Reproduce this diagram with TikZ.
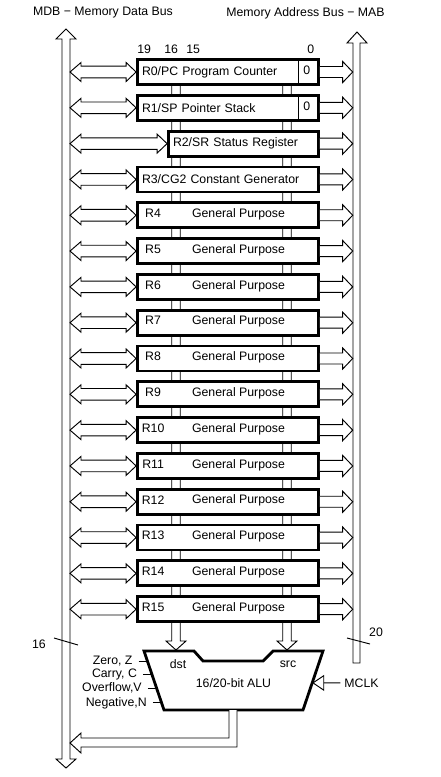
\documentclass[tikz,border=0pt]{standalone}
\usepackage{fontspec}
\setmainfont{Liberation Sans}
\usetikzlibrary{positioning, arrows.meta, calc, backgrounds}

\begin{document}
\begin{tikzpicture}[
    x=0.3mm, y=-0.3mm,
    font=\fontsize{10.5}{12}\selectfont,
    node distance=2.4mm,
    reg/.style={
        rectangle, draw=black, line width=2.4pt, fill=white,
        minimum width=54.3mm, minimum height=7.5mm,
        inner xsep=1.35mm, inner ysep=0pt,
        text width=51.6mm, align=left
    },
    regtext/.style={inner sep=0pt},
    hollow/.style={draw=black, line width=0.8pt, fill=white, line join=miter},
    thinline/.style={draw=black, line width=0.8pt},
    alubody/.style={draw=black, line width=2.4pt, line join=miter, fill=white},
    flag/.style={inner xsep=1.8mm, inner ysep=1pt},
    clock/.style={-{Triangle[open, length=3.6mm, width=4.8mm]}, thinline}
]
\useasboundingbox (0,0) rectangle (441,777);

% ============ Bus edges ============
\coordinate (mdb) at (70,400);
\coordinate (mab) at (352.7,400);

% ============ Register file ============
\node[reg] (r0) at (228,72) {R0/PC Program Counter};
\node[reg, below=of r0] (r1) {R1/SP Pointer Stack};
\node[reg, minimum width=45mm, text width=42.3mm, below=of r1.south east, anchor=north east] (r2) {R2/SR Status Register};
\node[reg, below=of r2.south east, anchor=north east] (r3) {R3/CG2 Constant Generator};
\foreach \i [remember=\i as \j (initially 3)] in {4,...,15} {
    \node[reg, below=of r\j] (r\i) {};
    \node[regtext] (n\i) at ($(r\i.west)+(17,-2)$) {R\i};
    \node[regtext] (gp\i) at ($(r\i.center)+(10.5,-1)$) {General Purpose};
}

% zero bit cells
\foreach \i in {0,1} {
    \draw[thinline] ($(r\i.north east)+(-21,0)$) -- ($(r\i.south east)+(-21,0)$);
    \node[regtext] (z\i) at ($(r\i.east)+(-13,-2)$) {0};
}

% bit numbers
\node (b19) at ($(r0.north west)+(8,-9)$) {19};
\node (b16) at ($(r0.north west)+(35,-9)$) {16};
\node (b15) at ($(r0.north west)+(57,-9)$) {15};
\node (b0) at ($(r0.north east)+(-9,-9)$) {0};

% ============ ALU ============
\coordinate (alunw) at (144,651);
\coordinate (alune) at (323,651);
\coordinate (aluse) at (303,710);
\coordinate (alusw) at (164,710);
\draw[alubody] (alunw) -- (194,651) -- (203,661) -- (263,661) -- (273,651)
    -- (alune) -- (aluse) -- (alusw) -- cycle;
\node (alu) at (233.5,683) {16/20-bit ALU};
\node (dst) at (178,664) {dst};
\node (src) at (288,664) {src};
\coordinate (dstin) at (176,650);
\coordinate (srcin) at (287,650);
\coordinate (aluout) at (233,710);

% status flags
\coordinate (zpt) at ($(alunw)!0.17!(alusw)$);
\coordinate (cpt) at ($(alunw)!0.39!(alusw)$);
\coordinate (vpt) at ($(alunw)!0.63!(alusw)$);
\coordinate (npt) at ($(alunw)!0.88!(alusw)$);
\node[flag, left=2.6mm of zpt] (zero) {Zero, Z};
\node[flag, left=2.6mm of cpt] (carry) {Carry, C};
\node[flag, left=2.6mm of vpt] (overflow) {Overflow,V};
\node[flag, left=2.6mm of npt] (negative) {Negative,N};
\draw[thinline] (zero) -- (zpt);
\draw[thinline] (carry) -- (cpt);
\draw[thinline] (overflow) -- (vpt);
\draw[thinline] (negative) -- (npt);

% clock input
\coordinate (clkin) at ($(alune)!0.54!(aluse)$);
\node (mclk) at (361.5,683) {MCLK};
\draw[clock] (mclk) -- (clkin);

% ============ Operand paths (behind registers) ============
\begin{scope}[on background layer]
    \draw[hollow] (dstin) -- ++(-10,-9) -- ++(5.75,0) -- ($(dstin |- r0.center)+(-4.25,0)$)
        -- ++(8.5,0) -- ($(dstin)+(4.25,-9)$) -- ++(5.75,0) -- cycle;
    \draw[hollow] (srcin) -- ++(-10,-9) -- ++(5.75,0) -- ($(srcin |- r0.center)+(-4.25,0)$)
        -- ++(8.5,0) -- ($(srcin)+(4.25,-9)$) -- ++(5.75,0) -- cycle;
\end{scope}

% ============ Buses ============
\draw[hollow] (62,39) -- (56,39) -- (66,29) -- (76,39) -- (70,39) -- (70,759)
    -- (76,759) -- (66,768) -- (56,759) -- (62,759) -- cycle;
\draw[hollow] (353,663) -- (353,43) -- (347,43) -- (357,32) -- (367,43)
    -- (360,43) -- (360,663) -- cycle;
\node (mdblabel) at (103,13) {MDB − Memory Data Bus};
\node (mablabel) at (305.5,13) {Memory Address Bus − MAB};

% bus widths
\draw[thinline] (54,638) -- (78,645);
\node (w16) at (39,644) {16};
\draw[thinline] (347,638) -- (370,644);
\node (w20) at (376,632) {20};

% ============ Register <-> bus arrows ============
\foreach \i in {0,...,15} {
    \draw[hollow] (r\i.west) -- ++(-10,-9.5) -- ++(0,3.7)
        -- ($(mdb |- r\i.west)+(11,-5.8)$) -- ++(0,-3.7) -- (mdb |- r\i.west)
        -- ++(11,9.5) -- ++(0,-3.7) -- ($(r\i.west)+(-10,5.8)$) -- ++(0,3.7) -- cycle;
    \draw[hollow] ($(r\i.east)+(0,-5.5)$) -- ($(mab |- r\i.east)+(-10,-5.5)$)
        -- ++(0,-5) -- (mab |- r\i.east) -- ++(-10,10.5) -- ++(0,-5)
        -- ($(r\i.east)+(0,5.5)$);
}

% ============ ALU result back to MDB ============
\draw[hollow] ($(aluout)+(-4,0)$) -- ++(0,28) -- ($(mdb |- aluout)+(11,28)$)
    -- ++(0,-5) -- ($(mdb |- aluout)+(0,33)$) -- ++(11,10) -- ++(0,-6)
    -- ($(aluout)+(4,37)$) -- ++(0,-37);

\end{tikzpicture}
\end{document}
